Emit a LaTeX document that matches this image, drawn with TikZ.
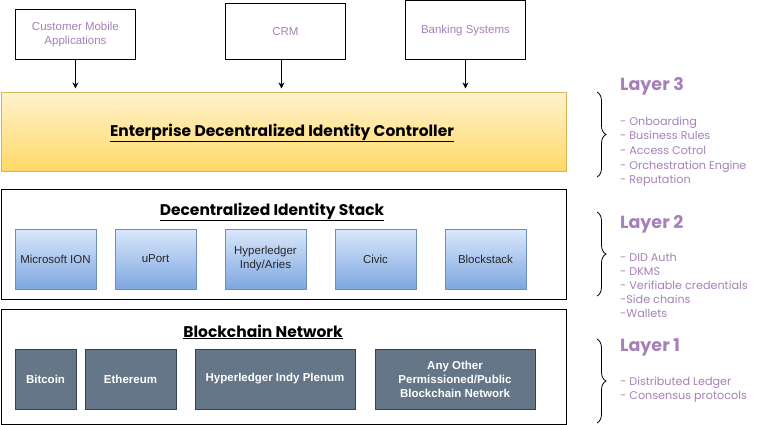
\documentclass[tikz,border=0pt]{standalone}
\usepackage{fontspec}
\setmainfont{Liberation Sans}
\newfontfamily\handfont{Poppins}
\usetikzlibrary{arrows.meta, positioning, decorations.pathreplacing}

\definecolor{lilac}{HTML}{A680B8}
\definecolor{ctrlfill}{HTML}{FFF2CC}
\definecolor{ctrlshade}{HTML}{FFD966}
\definecolor{ctrlline}{HTML}{D6B656}
\definecolor{didfill}{HTML}{DAE8FC}
\definecolor{didshade}{HTML}{7EA6E0}
\definecolor{didline}{HTML}{6C8EBF}
\definecolor{chainfill}{HTML}{647687}
\definecolor{chainline}{HTML}{314354}

\begin{document}
\begin{tikzpicture}[
    x=1pt, y=-1pt,
    srcbox/.style={rectangle, draw, line width=0.9pt, minimum width=120pt, anchor=north west, align=center, inner sep=0pt, text=lilac, font=\fontsize{11.5}{14}\selectfont},
    layerbox/.style={rectangle, draw, line width=1pt, minimum width=565.5pt, anchor=north west, inner sep=0pt},
    ctrlbox/.style={layerbox, draw=ctrlline, top color=ctrlfill, bottom color=ctrlshade},
    heading/.style={font=\handfont\bfseries\fontsize{15.5}{18}\selectfont, inner sep=0pt},
    didbox/.style={rectangle, draw=didline, line width=0.8pt, top color=didfill, bottom color=didshade, minimum width=81pt, minimum height=60pt, outer sep=0pt, align=center, inner sep=0pt, font=\fontsize{11.5}{14}\selectfont, text=black!85},
    chainbox/.style={rectangle, draw=chainline, fill=chainfill, line width=0.8pt, minimum height=60pt, outer sep=0pt, align=center, inner sep=0pt, text=white, font=\bfseries\fontsize{11.5}{14}\selectfont},
    feed/.style={-{Stealth[length=6pt,width=6pt]}, line width=0.9pt, shorten >=3.5pt},
    brace/.style={decorate, decoration={brace, amplitude=9pt}, line width=0.8pt},
    layername/.style={anchor=base west, inner sep=0pt, text=lilac, font=\handfont\bfseries\fontsize{17.5}{20}\selectfont},
    layerlist/.style={anchor=north west, inner sep=0pt, align=left, text=lilac, font=\handfont\fontsize{11.2}{14.6}\selectfont}
  ]
    \useasboundingbox (0,0) rectangle (766,425);

    % source systems on top
    \node[srcbox, minimum height=50pt] (cust) at (15,9) {Customer Mobile\\Applications};
    \node[srcbox, minimum height=56pt] (crm) at (225,3) {CRM};
    \node[srcbox, minimum height=58.5pt] (bank) at (405,0.5) {Banking Systems};

    % layer 3: controller
    \node[ctrlbox, minimum height=79pt] (ctrl) at (0.5,92) {};
    \node[heading] (ctrltitle) at (282,133) {\underline{Enterprise Decentralized Identity Controller}};

    \draw[feed] (cust.south) -- (cust.south |- ctrl.north);
    \draw[feed] ([xshift=-4pt]crm.south) -- ([xshift=-4pt]crm.south |- ctrl.north);
    \draw[feed] (bank.south) -- (bank.south |- ctrl.north);

    % layer 2: identity stack
    \node[layerbox, minimum height=110pt] (stack) at (0.5,189) {};
    \node[heading] (stacktitle) at (272,212) {\underline{Decentralized Identity Stack}};
    \node[didbox, anchor=north west] (ion) at (15,229) {Microsoft ION};
    \node[didbox, right=19pt of ion] (uport) {uPort};
    \node[didbox, right=29pt of uport] (indy) {Hyperledger\\Indy/Aries};
    \node[didbox, right=29pt of indy] (civic) {Civic};
    \node[didbox, right=29pt of civic] (bstack) {Blockstack};

    % layer 1: blockchain network
    \node[layerbox, minimum height=115pt] (chain) at (0.5,309) {};
    \node[heading] (chaintitle) at (263,332) {\underline{Blockchain Network}};
    \node[chainbox, minimum width=61pt, anchor=north west] (btc) at (15,349) {Bitcoin};
    \node[chainbox, minimum width=91pt, right=9pt of btc] (eth) {Ethereum};
    \node[chainbox, minimum width=160pt, right=19pt of eth] (plenum) {Hyperledger Indy Plenum};
    \node[chainbox, minimum width=160pt, right=20pt of plenum] (other) {Any Other\\Permissioned/Public\\Blockchain Network};

    % layer notes on the right
    \coordinate (b3top) at (597,92);
    \coordinate (b3bot) at (597,177);
    \coordinate (b2top) at (597,212);
    \coordinate (b2bot) at (597,296);
    \coordinate (b1top) at (597,339);
    \coordinate (b1bot) at (597,423);
    \draw[brace] (b3top) -- (b3bot);
    \draw[brace] (b2top) -- (b2bot);
    \draw[brace] (b1top) -- (b1bot);

    \node[layername] (l3) at (620,91) {Layer 3};
    \node[layerlist] (l3list) at (620,116.5) {- Onboarding\\- Business Rules\\- Access Cotrol\\- Orchestration Engine\\- Reputation};
    \node[layername] (l2) at (620,228) {Layer 2};
    \node[layerlist, font=\handfont\fontsize{11.2}{14}\selectfont] (l2list) at (620,253.5) {- DID Auth\\- DKMS\\- Verifiable credentials\\-Side chains\\-Wallets};
    \node[layername] (l1) at (620,351) {Layer 1};
    \node[layerlist, font=\handfont\fontsize{11.2}{14}\selectfont] (l1list) at (620,376.5) {- Distributed Ledger\\- Consensus protocols};

\end{tikzpicture}
\end{document}
